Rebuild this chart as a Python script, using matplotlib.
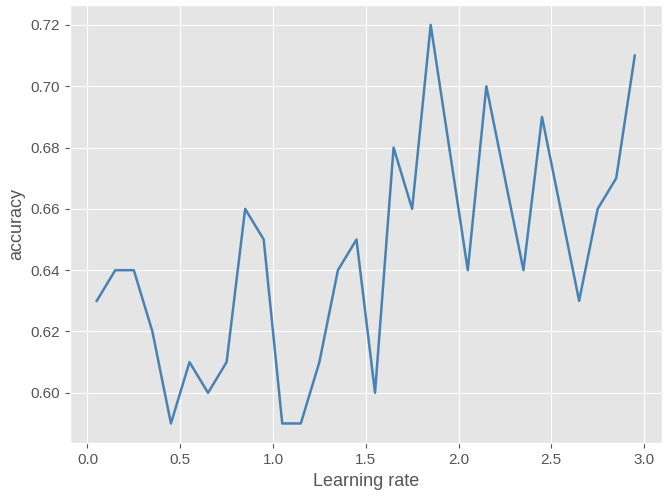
import matplotlib
matplotlib.use("Agg")
import matplotlib.pyplot as plt

plt.style.use("ggplot")
plt.rcParams['font.family'] = ['Liberation Sans', 'DejaVu Sans']
lr = [0.05,0.15,0.25,0.35,0.45,0.55,0.65,0.75,0.85,0.95,1.05,1.15,1.25,1.35,1.45,
      1.55,1.65,1.75,1.85,1.95,2.05,2.15,2.25,2.35,2.45,2.55,2.65,2.75,2.85,2.95]
acc = [0.63,0.64,0.64,0.62,0.59,0.61,0.60,0.61,0.66,0.65,0.59,0.59,0.61,0.64,0.65,
       0.60,0.68,0.66,0.72,0.68,0.64,0.70,0.67,0.64,0.69,0.66,0.63,0.66,0.67,0.71]

fig, ax = plt.subplots(figsize=(6.65, 5.01), dpi=100)
ax.plot(lr, acc, color="steelblue", linewidth=1.8)
ax.set_xlabel("Learning rate", fontsize=13)
ax.set_ylabel("accuracy", fontsize=13)
ax.tick_params(labelsize=11)
fig.subplots_adjust(left=0.105, right=0.995, top=0.99, bottom=0.115)
fig.savefig("out.png")
